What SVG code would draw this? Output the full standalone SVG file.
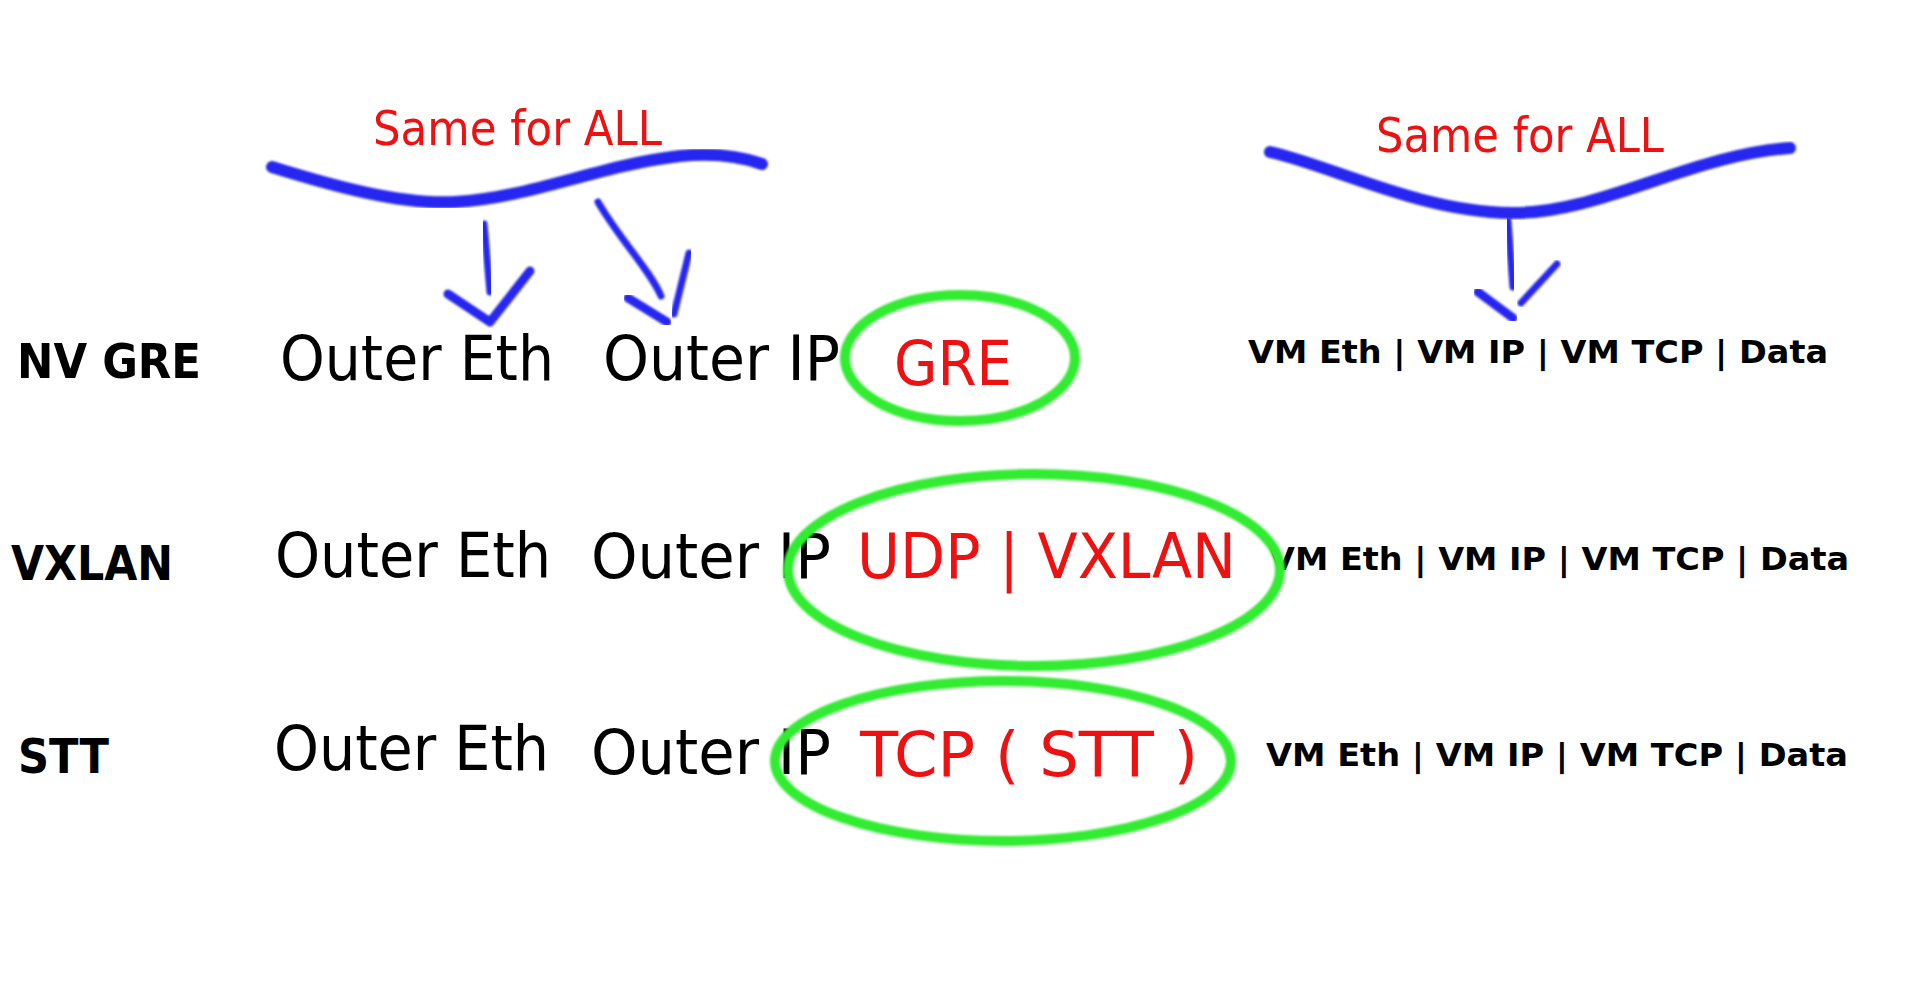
<svg xmlns="http://www.w3.org/2000/svg" width="1920" height="997" viewBox="0 0 1920 997">
<defs>
<filter id="soft" x="-10%" y="-10%" width="120%" height="120%"><feGaussianBlur stdDeviation="1"/></filter>
</defs>
<style>
.lbl{font-family:"DejaVu Sans Condensed","DejaVu Sans","Liberation Sans",sans-serif;font-weight:bold;font-size:48px;fill:#000}
.big{font-family:"DejaVu Sans Condensed","DejaVu Sans","Liberation Sans",sans-serif;font-size:63px;fill:#000}
.red{font-family:"DejaVu Sans Condensed","DejaVu Sans","Liberation Sans",sans-serif;font-size:63px;fill:#ee1111}
.same{font-family:"DejaVu Sans Condensed","DejaVu Sans","Liberation Sans",sans-serif;font-size:48px;fill:#ee1111}
.vm{font-family:"DejaVu Sans Condensed","DejaVu Sans","Liberation Sans",sans-serif;font-weight:bold;font-size:32px;fill:#000}
.blue{fill:none;stroke:#2828f0;stroke-linecap:round;stroke-linejoin:round;filter:url(#soft)}
.ring{fill:none;stroke:#30ec30;stroke-width:10;filter:url(#soft)}
</style>
<rect width="1920" height="997" fill="#fff"/>
<g id="labels">
<text class="same" x="373" y="145" textLength="289" lengthAdjust="spacingAndGlyphs">Same for ALL</text>
<text class="same" x="1376" y="152" textLength="288" lengthAdjust="spacingAndGlyphs">Same for ALL</text>
</g>
<g id="row-nvgre">
<text class="lbl" x="17" y="378" textLength="184" lengthAdjust="spacingAndGlyphs">NV GRE</text>
<text class="big" x="280" y="380" textLength="274" lengthAdjust="spacingAndGlyphs">Outer Eth</text>
<text class="big" x="603" y="380" textLength="237" lengthAdjust="spacingAndGlyphs">Outer IP</text>
<text class="red" x="894" y="385" textLength="118" lengthAdjust="spacingAndGlyphs">GRE</text>
<text class="vm" x="1248" y="363" textLength="580" lengthAdjust="spacingAndGlyphs">VM Eth | VM IP | VM TCP | Data</text>
</g>
<g id="row-vxlan">
<text class="lbl" x="11" y="580" textLength="162" lengthAdjust="spacingAndGlyphs">VXLAN</text>
<text class="big" x="275" y="577" textLength="276" lengthAdjust="spacingAndGlyphs">Outer Eth</text>
<text class="big" x="591" y="578" textLength="240" lengthAdjust="spacingAndGlyphs">Outer IP</text>
<text class="red" x="857" y="578" textLength="379" lengthAdjust="spacingAndGlyphs">UDP | VXLAN</text>
<text class="vm" x="1269" y="570" textLength="580" lengthAdjust="spacingAndGlyphs">VM Eth | VM IP | VM TCP | Data</text>
</g>
<g id="row-stt">
<text class="lbl" x="18" y="773" textLength="91" lengthAdjust="spacingAndGlyphs">STT</text>
<text class="big" x="274" y="770" textLength="275" lengthAdjust="spacingAndGlyphs">Outer Eth</text>
<text class="big" x="591" y="774" textLength="240" lengthAdjust="spacingAndGlyphs">Outer IP</text>
<text class="red" x="860" y="776" textLength="338" lengthAdjust="spacingAndGlyphs">TCP ( STT )</text>
<text class="vm" x="1266" y="766" textLength="582" lengthAdjust="spacingAndGlyphs">VM Eth | VM IP | VM TCP | Data</text>
</g>
<g id="highlights">
<ellipse class="ring" cx="960" cy="358" rx="115" ry="63"/>
<ellipse class="ring" cx="1034" cy="570" rx="246" ry="96"/>
<ellipse class="ring" cx="1003" cy="761" rx="228" ry="80"/>
</g>
<g id="connectors">
<path class="blue" stroke-width="12" d="M272,167 C330,185 400,205 455,202 C530,198 600,165 680,156 C720,152 745,158 762,164"/>
<path class="blue" stroke-width="12" d="M1270,152 C1330,165 1420,212 1511,213 C1600,214 1690,155 1790,148"/>
<path class="blue" stroke-width="7" d="M484,224 L490,292"/>
<path class="blue" stroke-width="9" d="M448,294 L490,322 L530,271"/>
<path class="blue" stroke-width="7" d="M598,202 C620,240 650,270 661,296"/>
<path class="blue" stroke-width="9" d="M628,298 L667,322"/>
<path class="blue" stroke-width="7" d="M689,253 L674,314"/>
<path class="blue" stroke-width="7" d="M1508,221 L1513,287"/>
<path class="blue" stroke-width="9" d="M1478,292 L1513,318"/>
<path class="blue" stroke-width="7" d="M1557,264 L1521,303"/>
</g>
</svg>
